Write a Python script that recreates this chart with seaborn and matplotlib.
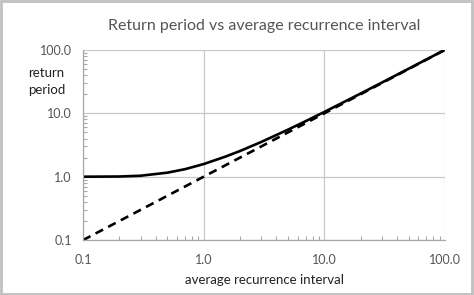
import matplotlib
matplotlib.use("Agg")
import matplotlib.pyplot as plt
import matplotlib.ticker as mticker
from matplotlib.patches import Rectangle
import seaborn as sns
import pandas as pd

# solid curve: return period vs ARI
ari = [0.1, 0.2, 0.3, 0.5, 0.7, 1.0, 1.5, 2.0, 3.0, 5.0, 7.0, 10.0, 20.0, 50.0, 100.0]
return_period = [1.0, 1.007, 1.036, 1.157, 1.314, 1.582, 2.06, 2.54, 3.53, 5.52, 7.51, 10.5, 20.5, 50.5, 100.5]

# dashed 1:1 line
ref_x = [0.1, 100.0]
ref_y = [0.1, 100.0]

tick_vals = [0.1, 1.0, 10.0, 100.0]
tick_labels = ["0.1", "1.0", "10.0", "100.0"]

sns.set_style("white")
plt.rcParams['font.family'] = ['Lato', 'DejaVu Sans']

fig = plt.figure(figsize=(4.74, 2.95), dpi=100)
ax = fig.add_axes([0.175, 0.186, 0.764, 0.645])

df_curve = pd.DataFrame({"ARI": ari, "T": return_period})
df_ref = pd.DataFrame({"ARI": ref_x, "T": ref_y})

sns.lineplot(data=df_curve, x="ARI", y="T", ax=ax, color="black", linewidth=1.9)
sns.lineplot(data=df_ref, x="ARI", y="T", ax=ax, color="black", linewidth=1.9,
             linestyle=(0, (3.2, 2.2)))

ax.set_xscale("log")
ax.set_yscale("log")
ax.set_xlim(0.1, 100)
ax.set_ylim(0.1, 100)
ax.set_xticks(tick_vals)
ax.set_xticklabels(tick_labels)
ax.set_yticks(tick_vals)
ax.set_yticklabels(tick_labels)
ax.xaxis.set_minor_locator(mticker.LogLocator(base=10, subs=range(2, 10)))
ax.yaxis.set_minor_locator(mticker.LogLocator(base=10, subs=range(2, 10)))
ax.xaxis.set_minor_formatter(mticker.NullFormatter())
ax.yaxis.set_minor_formatter(mticker.NullFormatter())

ax.grid(True, which="major", color="#c8c8c8", linewidth=0.9)
ax.tick_params(axis="both", which="major", length=0, labelsize=9, labelcolor="#555555", pad=8)
ax.tick_params(axis="x", which="minor", bottom=True, direction="in", length=3,
               color="#a8a8a8", width=0.8)
ax.tick_params(axis="y", which="minor", left=True, direction="in", length=3,
               color="#a8a8a8", width=0.8)
ax.tick_params(axis="x", which="major", pad=10)

for side in ["top", "right"]:
    ax.spines[side].set_visible(False)
for side in ["left", "bottom"]:
    ax.spines[side].set_color("#a8a8a8")
    ax.spines[side].set_linewidth(0.9)

ax.set_title("Return period vs average recurrence interval", fontsize=11.5,
             color="#555555", pad=14)
ax.set_xlabel("average recurrence interval", fontsize=9.5, color="#222222", labelpad=6)
ax.set_ylabel("")
fig.text(0.098, 0.725, "return\nperiod", fontsize=9.5, color="#222222", ha="center",
         va="center", linespacing=1.5)

fig.patches.append(Rectangle((0.002, 0.003), 0.994, 0.994, transform=fig.transFigure,
                             fill=False, edgecolor="#c0c0c0", linewidth=2))

fig.savefig("out.png", dpi=100)
